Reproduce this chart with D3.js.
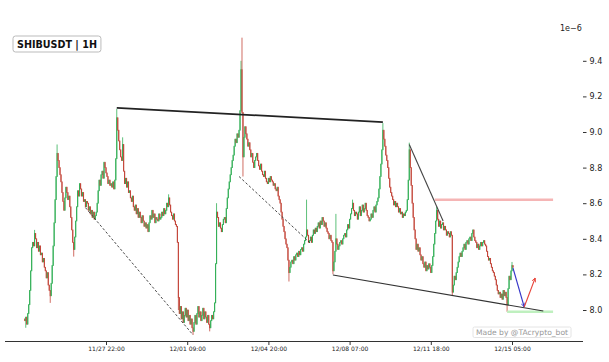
<!DOCTYPE html>
<html>
<head>
<meta charset="utf-8">
<script src="https://cdn.jsdelivr.net/npm/d3@7"></script>
<style>
  body { margin: 0; background: #fff; }
  svg { display: block; font-family: "DejaVu Sans", sans-serif; }
</style>
</head>
<body>
<svg id="chart" width="609" height="362"></svg>
<script>
// hourly closes (x 1e-6 USDT), first candle 11/24 11:00 UTC
const closes = [
  7.94,7.96,7.92,7.98,8.03,8.11,8.22,8.35,8.38,8.36,8.43,8.40,8.35,8.38,8.33,8.36,8.31,8.32,8.27,8.29,8.24,8.22,8.18,8.21,
  8.14,8.11,8.08,8.15,8.25,8.36,8.49,8.62,8.75,8.88,8.84,8.80,8.76,8.72,8.66,8.61,8.56,8.63,8.69,8.66,8.62,8.64,8.58,8.52,
  8.45,8.38,8.34,8.41,8.50,8.58,8.67,8.64,8.71,8.68,8.64,8.66,8.61,8.62,8.58,8.61,8.60,8.56,8.58,8.54,8.56,8.52,8.55,8.51,
  8.53,8.55,8.60,8.67,8.73,8.70,8.76,8.78,8.74,8.83,8.80,8.77,8.75,8.71,8.73,8.70,8.71,8.69,8.72,8.68,8.73,8.85,9.08,9.01,8.95,
  8.90,8.86,8.84,8.93,8.78,8.71,8.74,8.69,8.72,8.66,8.67,8.63,8.61,8.64,8.58,8.56,8.59,8.54,8.57,8.52,8.55,8.52,8.49,8.53,
  8.50,8.47,8.49,8.46,8.48,8.44,8.49,8.53,8.51,8.56,8.52,8.54,8.49,8.52,8.51,8.50,8.54,8.51,8.52,8.55,8.53,8.57,8.54,8.56,8.60,
  8.58,8.63,8.59,8.55,8.53,8.51,8.54,8.50,8.48,8.47,8.38,8.07,7.98,8.02,7.95,7.99,7.93,7.97,8.01,7.96,8.00,7.94,7.97,7.92,
  7.95,7.90,7.88,7.93,7.97,7.92,7.98,8.02,7.96,7.99,7.94,7.97,8.01,7.95,7.99,7.96,7.93,7.97,7.92,7.90,7.94,7.97,7.95,7.99,
  8.04,8.26,8.55,8.52,8.47,8.49,8.46,8.44,8.48,8.51,8.52,8.49,8.57,8.63,8.68,8.72,8.76,8.80,8.84,8.87,8.92,8.96,8.94,8.99,
  8.97,9.01,9.12,9.35,9.11,8.86,8.97,9.03,8.99,8.96,8.92,8.94,8.90,8.86,8.88,8.83,8.80,8.84,8.86,8.88,8.84,8.81,8.79,8.82,
  8.78,8.76,8.75,8.78,8.74,8.72,8.71,8.74,8.72,8.75,8.73,8.72,8.70,8.71,8.68,8.67,8.69,8.64,8.62,8.60,8.55,8.51,8.47,8.44,8.40,
  8.37,8.35,8.28,8.21,8.24,8.27,8.28,8.26,8.30,8.28,8.31,8.32,8.30,8.33,8.31,8.34,8.35,8.33,8.37,8.39,8.41,8.45,8.42,8.38,
  8.39,8.41,8.38,8.42,8.45,8.43,8.46,8.44,8.47,8.49,8.46,8.50,8.48,8.52,8.50,8.47,8.49,8.46,8.44,8.43,8.40,8.42,8.39,8.38,
  8.22,8.27,8.33,8.40,8.37,8.34,8.36,8.38,8.39,8.37,8.40,8.42,8.43,8.41,8.45,8.48,8.46,8.51,8.54,8.57,8.60,8.56,8.53,8.55,
  8.54,8.51,8.55,8.58,8.53,8.56,8.59,8.55,8.57,8.60,8.56,8.53,8.52,8.50,8.51,8.54,8.52,8.56,8.58,8.55,8.59,8.61,8.63,8.68,8.75,
  8.82,8.90,9.01,8.96,8.92,8.87,8.84,8.80,8.74,8.69,8.66,8.64,8.62,8.59,8.61,8.58,8.60,8.58,8.55,8.57,8.54,8.55,8.52,8.54,
  8.53,8.55,8.56,8.62,8.73,8.90,8.80,8.70,8.60,8.52,8.45,8.40,8.34,8.37,8.33,8.35,8.31,8.28,8.30,8.26,8.24,8.27,8.22,8.25,8.23,
  8.26,8.24,8.21,8.25,8.30,8.37,8.43,8.50,8.56,8.51,8.47,8.50,8.46,8.48,8.49,8.45,8.47,8.45,8.42,8.44,8.43,8.41,8.44,8.42,
  8.10,8.14,8.19,8.17,8.21,8.24,8.27,8.30,8.32,8.30,8.33,8.35,8.37,8.34,8.38,8.39,8.37,8.40,8.41,8.39,8.43,8.45,8.41,8.39,
  8.38,8.35,8.37,8.34,8.36,8.38,8.36,8.38,8.39,8.37,8.36,8.33,8.30,8.28,8.29,8.26,8.24,8.22,8.21,8.19,8.17,8.14,8.11,8.09,
  8.10,8.07,8.09,8.06,8.11,8.08,8.10,8.07,8.03,8.12,8.19,8.17,8.22,8.25,8.24
];
const firstOpen = 7.95;
const startTime = "2022-11-24T11:00Z";

// [candle index, price] for the longer wicks
const highWicks = [[10,8.45],[33,8.93],[94,9.13],[100,8.97],[147,8.65],[196,8.60],[221,9.40],[222,9.53],
  [288,8.62],[318,8.54],[335,8.62],[366,9.05],[393,8.94],[421,8.58],[498,8.27]];
const lowWicks = [[1,7.90],[26,8.04],[50,8.30],[157,8.00],[172,7.86],[189,7.88],[223,8.75],[270,8.16],
  [315,8.20],[437,8.08],[493,7.99]];

const yTicks = [8.0, 8.2, 8.4, 8.6, 8.8, 9.0, 9.2, 9.4];
const xTicks = ["2022-11-27T22:00Z","2022-12-01T09:00Z","2022-12-04T20:00Z","2022-12-08T07:00Z","2022-12-11T18:00Z","2022-12-15T05:00Z"];

// drawn patterns, as [candle index, price]
const trendTop = [[94, 9.135], [366, 9.056]];
const dashA = [[62, 8.575], [172, 7.86]];
const dashB = [[219, 8.75], [292, 8.375]];
const fallLine = [[393, 8.93], [427.6, 8.50]];
const supportLine = [[315, 8.197], [530, 7.994]];
const resistLevel = [[419, 8.62], [540, 8.62]];
const supportLevel = [[493, 7.99], [540, 7.99]];
const arrowDown = [[499, 8.236], [510.5, 8.017]];
const arrowUp = [[510.5, 8.017], [521.7, 8.18]];

const svg = d3.select("#chart");
const hour = 3600e3;
const t0 = Date.parse(startTime);
const timeOf = i => new Date(t0 + i * hour);

const x = d3.scaleUtc()
    .domain([new Date(xTicks[0]), new Date(xTicks[xTicks.length - 1])])
    .range([106, 512]);
const y = d3.scaleLinear().domain([8.0, 9.4]).range([310, 60.8]);

let candles = closes.map((c, i) => {
  let o = i ? closes[i - 1] : firstOpen;
  return {i: i, o: o, c: c, h: Math.max(o, c), l: Math.min(o, c)};
});
highWicks.forEach(d => { candles[d[0]].h = Math.max(candles[d[0]].h, d[1]); });
lowWicks.forEach(d => { candles[d[0]].l = Math.min(candles[d[0]].l, d[1]); });

const up = "#34b058", down = "#c4473b";

// spine + axes
svg.append("line")
    .attr("x1", 5).attr("x2", 583)
    .attr("y1", 341.5).attr("y2", 341.5)
    .attr("stroke", "#333").attr("stroke-width", 1);

let xAxis = svg.append("g")
    .attr("transform", "translate(0,341.5)")
    .call(d3.axisBottom(x)
        .tickValues(xTicks.map(d => new Date(d)))
        .tickFormat(d3.utcFormat("%m/%d %H:%M"))
        .tickSize(3.5).tickPadding(2));
xAxis.select(".domain").remove();
xAxis.selectAll("line").attr("stroke", "#333");
xAxis.selectAll("text").attr("font-size", 6).attr("fill", "#222")
    .attr("font-family", "DejaVu Sans");

let yAxis = svg.append("g")
    .attr("transform", "translate(583,0)")
    .call(d3.axisRight(y)
        .tickValues(yTicks)
        .tickFormat(d3.format(".1f"))
        .tickSize(3.5).tickPadding(3));
yAxis.select(".domain").remove();
yAxis.selectAll("line").attr("stroke", "#333");
yAxis.selectAll("text").attr("font-size", 8).attr("fill", "#222")
    .attr("font-family", "DejaVu Sans");

svg.append("text")
    .attr("x", 560).attr("y", 31)
    .attr("font-size", 8).attr("fill", "#222")
    .text("1e\u22126");

// candles
let cg = svg.append("g");
cg.selectAll("line.wick")
    .data(candles)
    .join("line")
    .attr("class", "wick")
    .attr("x1", d => x(timeOf(d.i))).attr("x2", d => x(timeOf(d.i)))
    .attr("y1", d => y(d.h)).attr("y2", d => y(d.l))
    .attr("stroke", d => d.c >= d.o ? up : down)
    .attr("stroke-width", 0.8);
cg.selectAll("rect.body")
    .data(candles)
    .join("rect")
    .attr("class", "body")
    .attr("x", d => x(timeOf(d.i)) - 0.55)
    .attr("width", 1.1)
    .attr("y", d => y(Math.max(d.o, d.c)) - 0.4)
    .attr("height", d => Math.max(1.2, y(Math.min(d.o, d.c)) - y(Math.max(d.o, d.c)) + 0.8))
    .attr("fill", d => d.c >= d.o ? up : down);

// pattern lines
const seg = pts => d3.line().x(d => x(timeOf(d[0]))).y(d => y(d[1]))(pts);

svg.append("path").attr("d", seg(resistLevel))
    .attr("stroke", "#f5b5b5").attr("stroke-width", 2.5).attr("fill", "none");
svg.append("path").attr("d", seg(supportLevel))
    .attr("stroke", "#bff0bf").attr("stroke-width", 2.5).attr("fill", "none");

svg.append("path").attr("d", seg(trendTop))
    .attr("stroke", "#222").attr("stroke-width", 1.8).attr("fill", "none");
svg.append("path").attr("d", seg(dashA))
    .attr("stroke", "#333").attr("stroke-width", 0.9)
    .attr("stroke-dasharray", "2.5,2").attr("fill", "none");
svg.append("path").attr("d", seg(dashB))
    .attr("stroke", "#333").attr("stroke-width", 0.9)
    .attr("stroke-dasharray", "2.5,2").attr("fill", "none");
svg.append("path").attr("d", seg(fallLine))
    .attr("stroke", "#444").attr("stroke-width", 1.1).attr("fill", "none");
svg.append("path").attr("d", seg(supportLine))
    .attr("stroke", "#333").attr("stroke-width", 1.1).attr("fill", "none");

// arrows
let defs = svg.append("defs");
[["headBlue", "#3535c8"], ["headRed", "#e8443a"]].forEach(m => {
  defs.append("marker")
      .attr("id", m[0])
      .attr("viewBox", "0 0 10 10")
      .attr("refX", 9).attr("refY", 5)
      .attr("markerWidth", 5).attr("markerHeight", 5)
      .attr("markerUnits", "userSpaceOnUse")
      .attr("orient", "auto")
      .append("path")
      .attr("d", "M1,1 L9,5 L1,9")
      .attr("fill", "none").attr("stroke", m[1]).attr("stroke-width", 1.6);
});
svg.append("path").attr("d", seg(arrowDown))
    .attr("stroke", "#3535c8").attr("stroke-width", 1.1).attr("fill", "none")
    .attr("marker-end", "url(#headBlue)");
svg.append("path").attr("d", seg(arrowUp))
    .attr("stroke", "#e8443a").attr("stroke-width", 1.1).attr("fill", "none")
    .attr("marker-end", "url(#headRed)");

// title box
let title = svg.append("g");
let tt = title.append("text")
    .attr("x", 17).attr("y", 47.5)
    .attr("font-size", 9.6).attr("font-weight", "bold").attr("fill", "#111")
    .text("SHIBUSDT | 1H");
let tw = tt.node().getComputedTextLength();
title.insert("rect", "text")
    .attr("x", 13).attr("y", 36)
    .attr("width", tw + 8).attr("height", 16)
    .attr("rx", 2.5)
    .attr("fill", "#fff").attr("stroke", "#aaa").attr("stroke-width", 0.8);

// watermark
let wm = svg.append("g");
let wt = wm.append("text")
    .attr("x", 476).attr("y", 334.8)
    .attr("font-size", 7.6).attr("fill", "#999")
    .text("Made by @TAcrypto_bot");
let ww = wt.node().getComputedTextLength();
wm.insert("rect", "text")
    .attr("x", 473).attr("y", 327)
    .attr("width", ww + 6).attr("height", 10.5)
    .attr("rx", 1.5)
    .attr("fill", "#fff").attr("stroke", "#ddd").attr("stroke-width", 0.8);
</script>
</body>
</html>
